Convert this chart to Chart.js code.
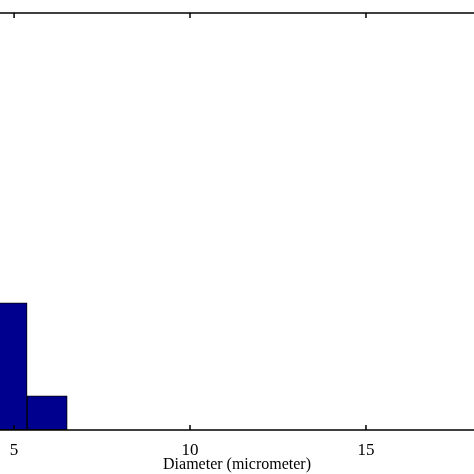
<!DOCTYPE html>
<html><head><style>html,body{margin:0;padding:0;background:#fff}#w{width:474px;height:474px}</style>
<script src="https://cdn.jsdelivr.net/npm/chart.js@4"></script></head>
<body><div id="w"><canvas id="c"></canvas></div>
<script>
const binCenters = [4.80, 5.94];
const counts = [30.5, 8.2];
const tickValues = [5, 10, 15];
const xTitle = 'Diameter (micrometer)';

const frame = {
  id: 'frame',
  afterDraw(chart) {
    const {ctx, chartArea: a, scales: {x}} = chart;
    ctx.save();
    ctx.strokeStyle = '#000'; ctx.lineWidth = 1.5;
    ctx.beginPath();
    ctx.moveTo(a.left, a.top); ctx.lineTo(a.right, a.top);
    ctx.moveTo(a.left, a.bottom); ctx.lineTo(a.right, a.bottom);
    tickValues.forEach(v => {
      const p = x.getPixelForValue(v);
      ctx.moveTo(p, a.top); ctx.lineTo(p, a.top + 5);
      ctx.moveTo(p, a.bottom); ctx.lineTo(p, a.bottom - 5);
    });
    ctx.stroke();
    ctx.restore();
  }
};

new Chart(document.getElementById('c'), {
  type: 'bar',
  data: { datasets: [{
    data: binCenters.map((c, i) => ({x: c, y: counts[i]})),
    backgroundColor: '#00008f', borderColor: '#000', borderWidth: 1,
    barPercentage: 1, categoryPercentage: 1, borderSkipped: false
  }]},
  options: {
    responsive: true, maintainAspectRatio: false, animation: false,
    layout: { padding: { top: 13, left: 0, right: 0, bottom: 0 } },
    plugins: { legend: { display: false }, tooltip: { enabled: false } },
    scales: {
      x: {
        type: 'linear', min: 4.6, max: 18.07, offset: false, bounds: 'ticks',
        afterBuildTicks(s) { s.ticks = tickValues.map(v => ({value: v})); },
        afterFit(s) { s.height = 44; },
        grid: { display: false, offset: false }, border: { display: false },
        ticks: { color: '#000', padding: 2, font: { family: 'Liberation Serif', size: 17 } },
        title: { display: true, text: xTitle, color: '#000', padding: 0,
                 font: { family: 'Liberation Serif', size: 16 } }
      },
      y: { display: false, min: 0, max: 100 }
    }
  },
  plugins: [frame]
});
</script></body></html>
